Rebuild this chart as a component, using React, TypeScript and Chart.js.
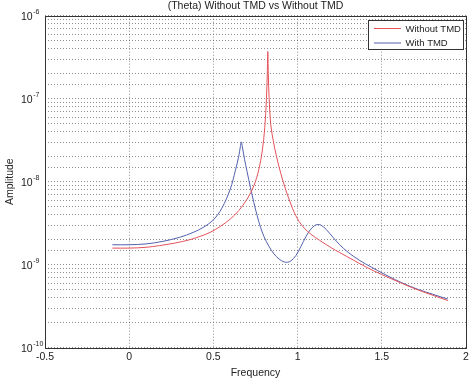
import React, { useEffect, useRef } from 'react';
import { Chart, registerables } from 'chart.js';

Chart.register(...registerables);

const titleText = '(Theta) Without TMD vs Without TMD';
const xAxisLabel = 'Frequency';
const yAxisLabel = 'Amplitude';
const seriesLabels = ['Without TMD', 'With TMD'];
const seriesColors = ['#e5525a', '#5260ae'];

const xTicks = [-0.5, 0, 0.5, 1, 1.5, 2];
const yDecades = [-10, -9, -8, -7, -6];

const withoutFreq = [-0.1, 0.0, 0.1, 0.18, 0.27, 0.36, 0.42, 0.48, 0.54, 0.6, 0.65, 0.7, 0.74, 0.77, 0.79, 0.805, 0.815, 0.82, 0.823, 0.826, 0.831, 0.84, 0.855, 0.875, 0.9, 0.93, 0.96, 0.98, 1.0, 1.02, 1.04, 1.08, 1.13, 1.2, 1.25, 1.33, 1.41, 1.5, 1.6, 1.7, 1.8, 1.892];
const withoutAmp = [1.585e-9, 1.585e-9, 1.62e-9, 1.7e-9, 1.82e-9, 2.0e-9, 2.19e-9, 2.45e-9, 2.88e-9, 3.55e-9, 4.47e-9, 6.17e-9, 8.9e-9, 1.41e-8, 2.34e-8, 4.47e-8, 1.0e-7, 2.0e-7, 3.7e-7, 2.0e-7, 1.0e-7, 5.0e-8, 3.16e-8, 2.0e-8, 1.26e-8, 7.94e-9, 5.37e-9, 4.27e-9, 3.55e-9, 3.09e-9, 2.75e-9, 2.32e-9, 1.97e-9, 1.6e-9, 1.4e-9, 1.14e-9, 9.3e-10, 7.6e-10, 6.2e-10, 5.1e-10, 4.3e-10, 3.7e-10];

const withFreq = [-0.1, 0.0, 0.1, 0.2, 0.3, 0.38, 0.44, 0.5, 0.55, 0.6, 0.63, 0.65, 0.66, 0.666, 0.672, 0.685, 0.7, 0.72, 0.74, 0.76, 0.78, 0.8, 0.83, 0.86, 0.89, 0.92, 0.94, 0.96, 0.99, 1.02, 1.05, 1.075, 1.1, 1.12, 1.14, 1.17, 1.21, 1.25, 1.3, 1.37, 1.44, 1.507, 1.58, 1.65, 1.72, 1.8, 1.892];
const withAmp = [1.74e-9, 1.74e-9, 1.78e-9, 1.91e-9, 2.14e-9, 2.45e-9, 2.82e-9, 3.47e-9, 4.79e-9, 8.13e-9, 1.35e-8, 2.0e-8, 2.63e-8, 3.02e-8, 2.63e-8, 1.86e-8, 1.32e-8, 8.51e-9, 5.62e-9, 3.89e-9, 2.82e-9, 2.19e-9, 1.66e-9, 1.35e-9, 1.17e-9, 1.08e-9, 1.07e-9, 1.11e-9, 1.29e-9, 1.66e-9, 2.19e-9, 2.63e-9, 2.95e-9, 3.05e-9, 2.99e-9, 2.66e-9, 2.14e-9, 1.74e-9, 1.41e-9, 1.12e-9, 9.3e-10, 7.85e-10, 6.6e-10, 5.69e-10, 5.0e-10, 4.42e-10, 3.85e-10];

const FONT = '"Liberation Sans", Arial, Helvetica, sans-serif';
const TEXT = '#222222';
const GRID = 'rgba(70,70,70,0.6)';

const decorPlugin = {
  id: 'matlabDecor',
  afterDraw(chart: any) {
    const { ctx, chartArea: a, scales } = chart;
    const ys = scales.y;
    ctx.save();
    // axes box
    ctx.strokeStyle = '#333';
    ctx.lineWidth = 1;
    ctx.setLineDash([]);
    ctx.strokeRect(Math.round(a.left) + 0.5, Math.round(a.top) + 0.5, Math.round(a.right - a.left), Math.round(a.bottom - a.top));

    // title centred over the axes
    ctx.fillStyle = TEXT;
    ctx.font = `10.5px ${FONT}`;
    ctx.textAlign = 'center';
    ctx.textBaseline = 'middle';
    ctx.fillText(titleText, (a.left + a.right) / 2, 6.5);

    // y tick labels 10^n
    ctx.textAlign = 'left';
    for (const d of yDecades) {
      const y = ys.getPixelForValue(Math.pow(10, d));
      ctx.font = `10.5px ${FONT}`;
      ctx.fillText('10', 21, y + 1);
      const w = ctx.measureText('10').width;
      ctx.font = `7px ${FONT}`;
      ctx.fillText(String(d), 21 + w + 0.5, y - 4);
    }

    // legend
    const bx = Math.round(a.right - 98.5) + 0.5;
    const by = Math.round(a.top + 4.5) + 0.5;
    const bw = 95;
    const bh = 29;
    ctx.fillStyle = '#fff';
    ctx.fillRect(bx, by, bw, bh);
    ctx.strokeStyle = '#333';
    ctx.strokeRect(bx, by, bw, bh);
    chart.data.datasets.forEach((ds: any, i: number) => {
      const ly = by + 8 + i * 14.5;
      ctx.strokeStyle = ds.borderColor;
      ctx.lineWidth = 1;
      ctx.beginPath();
      ctx.moveTo(bx + 5.5, ly);
      ctx.lineTo(bx + 32.5, ly);
      ctx.stroke();
      ctx.fillStyle = TEXT;
      ctx.font = `9.5px ${FONT}`;
      ctx.textAlign = 'left';
      ctx.textBaseline = 'middle';
      ctx.fillText(ds.label, bx + 37, ly + 0.5);
    });
    ctx.restore();
  },
};

export default function App() {
  const ref = useRef<HTMLCanvasElement | null>(null);

  useEffect(() => {
    if (!ref.current) return;
    const chart = new Chart(ref.current, {
      type: 'line',
      data: {
        datasets: [
          {
            label: seriesLabels[0],
            data: withoutFreq.map((x, i) => ({ x, y: withoutAmp[i] })),
            borderColor: seriesColors[0],
            borderWidth: 1,
            pointRadius: 0,
            fill: false,
            tension: 0.35,
          },
          {
            label: seriesLabels[1],
            data: withFreq.map((x, i) => ({ x, y: withAmp[i] })),
            borderColor: seriesColors[1],
            borderWidth: 1,
            pointRadius: 0,
            fill: false,
            tension: 0.35,
          },
        ],
      },
      options: {
        responsive: false,
        animation: false,
        devicePixelRatio: 1,
        layout: { padding: { left: 0, right: 8, top: 15.7, bottom: 0 } },
        plugins: {
          legend: { display: false },
          tooltip: { enabled: false },
          title: { display: false },
        },
        scales: {
          x: {
            type: 'linear',
            min: -0.5,
            max: 2,
            afterBuildTicks: (s: any) => {
              s.ticks = xTicks.map((v) => ({ value: v }));
            },
            ticks: {
              color: TEXT,
              font: { family: FONT, size: 10.5 },
              padding: 3,
              maxRotation: 0,
              autoSkip: false,
              callback: (v: any) => String(v),
            },
            grid: { color: GRID, drawTicks: false, lineWidth: 1 },
            border: { display: false, dash: [1, 2] },
            title: {
              display: true,
              text: xAxisLabel,
              color: TEXT,
              font: { family: FONT, size: 10.5 },
              padding: { top: 0, bottom: 10.5 },
            },
            afterFit: (s: any) => {
              s.height = 42.3;
            },
          },
          y: {
            type: 'logarithmic',
            min: 1e-10,
            max: 1e-6,
            ticks: { display: false, autoSkip: false },
            grid: { color: GRID, drawTicks: false, lineWidth: 1 },
            border: { display: false, dash: [1, 2] },
            title: {
              display: true,
              text: yAxisLabel,
              color: TEXT,
              font: { family: FONT, size: 10.5 },
              padding: { top: 3.5, bottom: 0 },
            },
            afterFit: (s: any) => {
              s.width = 45;
            },
          },
        },
      },
      plugins: [decorPlugin],
    } as any);
    return () => chart.destroy();
  }, []);

  return (
    <div style={{ position: 'fixed', left: 0, top: 0, width: 474, height: 390, background: '#fff' }}>
      <canvas ref={ref} width={474} height={390} />
    </div>
  );
}
